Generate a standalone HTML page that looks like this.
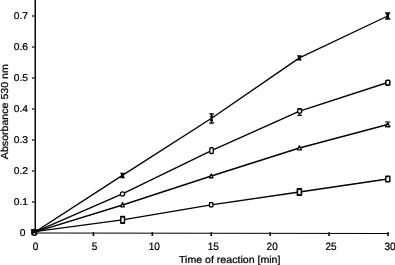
<!DOCTYPE html>
<html><head><meta charset="utf-8"><title>Absorbance vs time</title>
<style>
html,body{margin:0;padding:0;background:#fff;}
body{width:395px;height:265px;overflow:hidden;}
svg{display:block;}
text{text-rendering:geometricPrecision;font-family:"Liberation Sans",Arial,Helvetica,sans-serif;fill:#000;stroke:#000;stroke-width:0.24px;}
text.t{font-size:10.1px;}
</style></head><body>
<svg width="395" height="265" viewBox="0 0 395 265">
<rect x="0" y="0" width="395" height="265" fill="#fff"/>

<rect x="34.5" y="0" width="1.45" height="233.5" fill="#000"/>
<line x1="34.5" y1="232.9" x2="389" y2="233.5" stroke="#000" stroke-width="1.05"/>
<text transform="translate(19.80,235.75) scale(1.04,1)" font-size="9.9" text-anchor="start">0</text>
<line x1="32" y1="202.0" x2="34.5" y2="202.0" stroke="#000" stroke-width="1.2"/>
<text transform="translate(13.70,204.75) scale(1.04,1)" font-size="9.9" text-anchor="start">0.1</text>
<line x1="32" y1="171.0" x2="34.5" y2="171.0" stroke="#000" stroke-width="1.2"/>
<text transform="translate(13.70,173.75) scale(1.04,1)" font-size="9.9" text-anchor="start">0.2</text>
<line x1="32" y1="140.0" x2="34.5" y2="140.0" stroke="#000" stroke-width="1.2"/>
<text transform="translate(13.70,142.75) scale(1.04,1)" font-size="9.9" text-anchor="start">0.3</text>
<line x1="32" y1="109.0" x2="34.5" y2="109.0" stroke="#000" stroke-width="1.2"/>
<text transform="translate(13.70,111.75) scale(1.04,1)" font-size="9.9" text-anchor="start">0.4</text>
<line x1="32" y1="78.0" x2="34.5" y2="78.0" stroke="#000" stroke-width="1.2"/>
<text transform="translate(13.70,80.75) scale(1.04,1)" font-size="9.9" text-anchor="start">0.5</text>
<line x1="32" y1="47.0" x2="34.5" y2="47.0" stroke="#000" stroke-width="1.2"/>
<text transform="translate(13.70,49.75) scale(1.04,1)" font-size="9.9" text-anchor="start">0.6</text>
<line x1="32" y1="16.0" x2="34.5" y2="16.0" stroke="#000" stroke-width="1.2"/>
<text transform="translate(13.70,18.75) scale(1.04,1)" font-size="9.9" text-anchor="start">0.7</text>
<text transform="translate(35.60,250.00) scale(0.945,1)" font-size="10.6" text-anchor="middle">0</text>
<line x1="93.42" y1="232.2" x2="93.42" y2="236" stroke="#000" stroke-width="1.6"/>
<text transform="translate(94.42,250.00) scale(0.945,1)" font-size="10.6" text-anchor="middle">5</text>
<line x1="152.34" y1="232.2" x2="152.34" y2="236" stroke="#000" stroke-width="1.6"/>
<text transform="translate(154.34,250.00) scale(0.945,1)" font-size="10.6" text-anchor="middle">10</text>
<line x1="211.26" y1="232.2" x2="211.26" y2="236" stroke="#000" stroke-width="1.6"/>
<text transform="translate(213.26,250.00) scale(0.945,1)" font-size="10.6" text-anchor="middle">15</text>
<line x1="270.18" y1="232.2" x2="270.18" y2="236" stroke="#000" stroke-width="1.6"/>
<text transform="translate(272.18,250.00) scale(0.945,1)" font-size="10.6" text-anchor="middle">20</text>
<line x1="329.10" y1="232.2" x2="329.10" y2="236" stroke="#000" stroke-width="1.6"/>
<text transform="translate(331.10,250.00) scale(0.945,1)" font-size="10.6" text-anchor="middle">25</text>
<line x1="388.02" y1="232.2" x2="388.02" y2="236" stroke="#000" stroke-width="1.6"/>
<text transform="translate(390.02,250.00) scale(0.945,1)" font-size="10.6" text-anchor="middle">30</text>
<text class="t" transform="translate(229.7,262.5) scale(1.05,1)" text-anchor="middle">Time of reaction [min]</text>
<text class="t" transform="translate(7.7,111.7) rotate(-90) scale(1.05,1)" text-anchor="middle">Absorbance 530 nm</text>
<polyline points="34.6,232.2 122.4,175.4 211.6,118.3 299.4,57.9 387.7,16.0" fill="none" stroke="#000" stroke-width="1.35" stroke-linejoin="round"/>
<polyline points="34.6,232.2 122.4,193.8 211.4,150.7 299.6,111.2 387.7,82.5" fill="none" stroke="#000" stroke-width="1.35" stroke-linejoin="round"/>
<polyline points="34.6,232.2 122.6,205.0 211.3,176.0 299.4,148.0 387.7,124.5" fill="none" stroke="#000" stroke-width="1.35" stroke-linejoin="round"/>
<polyline points="34.6,231.6 122.4,219.9 211.1,204.8 299.4,192.0 387.7,179.0" fill="none" stroke="#000" stroke-width="1.35" stroke-linejoin="round"/>
<path d="M31.1,229.1 H37.5 V233.2 A3.2,2.7 0 0 1 31.1,233.2 Z" fill="#000"/>
<circle cx="34.3" cy="233.9" r="0.8" fill="#fff"/>
<path d="M120.00,172.80 L125.00,172.80 L123.60,175.50 L125.00,178.20 L120.00,178.20 L121.40,175.50 Z" fill="#000"/>
<path d="M209.40,114.00 H213.80 M209.40,123.00 H213.80 M211.60,114.00 V123.00" fill="none" stroke="#000" stroke-width="1.3"/>
<path d="M209.90,115.80 L213.30,115.80 L212.40,118.50 L213.30,121.20 L209.90,121.20 L210.80,118.50 Z" fill="#000"/>
<path d="M296.90,55.30 L301.90,55.30 L300.50,57.90 L301.90,60.50 L296.90,60.50 L298.30,57.90 Z" fill="#000"/>
<path d="M385.10,12.90 H390.30 M385.10,19.10 H390.30 M387.70,12.90 V19.10" fill="none" stroke="#000" stroke-width="1.2"/>
<path d="M385.60,13.20 L389.80,13.20 L388.70,16.00 L389.80,18.80 L385.60,18.80 L386.70,16.00 Z" fill="#000"/>
<circle cx="122.50" cy="194.00" r="2.1" fill="#fff" stroke="#000" stroke-width="1.3"/>
<rect x="209.78" y="147.78" width="3.55" height="5.75" rx="1.0" ry="1.0" fill="#fff" stroke="#000" stroke-width="1.35"/>
<path d="M297.40,108.50 H301.80 M297.40,115.40 H301.80 M299.60,108.50 V115.40" fill="none" stroke="#000" stroke-width="1.1"/>
<circle cx="299.60" cy="111.20" r="2.1" fill="#fff" stroke="#000" stroke-width="1.3"/>
<rect x="385.82" y="80.18" width="3.95" height="4.95" rx="1.0" ry="1.0" fill="#fff" stroke="#000" stroke-width="1.55"/>
<path d="M122.60,202.53 L124.32,206.88 L120.88,206.88 Z" fill="#fff" stroke="#000" stroke-width="1.25" stroke-linejoin="round"/>
<path d="M211.20,173.95 L213.05,177.75 L209.35,177.75 Z" fill="#fff" stroke="#000" stroke-width="1.3" stroke-linejoin="round"/>
<path d="M299.40,145.75 L301.45,149.85 L297.35,149.85 Z" fill="#fff" stroke="#000" stroke-width="1.3" stroke-linejoin="round"/>
<path d="M385.10,122.00 H390.30 M385.10,126.80 H390.30 M387.70,122.00 V126.80" fill="none" stroke="#000" stroke-width="1.1"/>
<path d="M387.70,122.83 L389.77,126.67 L385.62,126.67 Z" fill="#fff" stroke="#000" stroke-width="1.25" stroke-linejoin="round"/>
<rect x="120.10" y="215.80" width="5.10" height="8.10" rx="0.9" fill="#000"/><rect x="121.55" y="217.60" width="2.20" height="4.50" fill="#fff"/>
<rect x="208.85" y="202.00" width="4.70" height="5.50" rx="0.9" fill="#000"/><rect x="210.10" y="203.30" width="2.20" height="2.90" fill="#fff"/>
<rect x="296.60" y="188.00" width="5.60" height="8.00" rx="0.9" fill="#000"/><rect x="298.20" y="189.90" width="2.40" height="4.20" fill="#fff"/>
<rect x="385.10" y="175.60" width="5.40" height="7.00" rx="0.9" fill="#000"/><rect x="386.55" y="177.20" width="2.50" height="3.80" fill="#fff"/>
</svg></body></html>
